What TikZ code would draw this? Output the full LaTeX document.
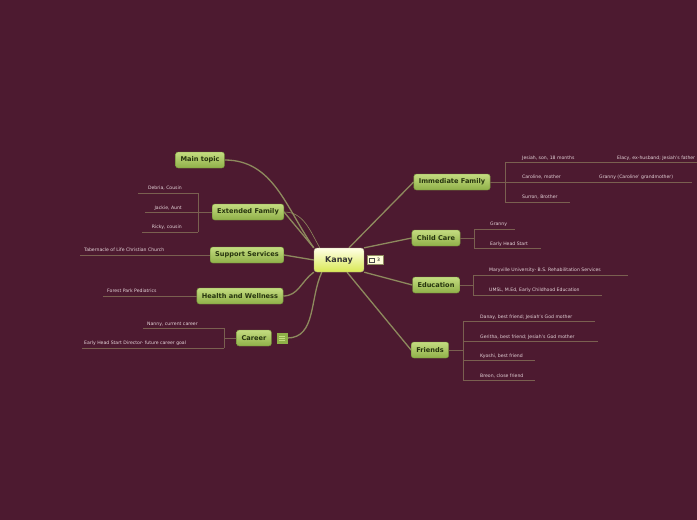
\documentclass[tikz,border=0pt]{standalone}
\usepackage{fontspec}
\setmainfont{DejaVu Sans}
\usetikzlibrary{backgrounds}
\definecolor{bg}{HTML}{4D1A30}
\definecolor{ln}{HTML}{8E8A5E}
\definecolor{leafln}{HTML}{7A6050}
\definecolor{gtop}{HTML}{C4DC80}
\definecolor{gbot}{HTML}{8FB048}
\definecolor{gtxt}{HTML}{26340E}
\definecolor{lt}{HTML}{E6D6DA}
\begin{document}
\begin{tikzpicture}[x=1pt,y=-1pt,
 topic/.style={draw=gbot!80!black,rounded corners=2.5pt,top color=gtop,bottom color=gbot,text=gtxt,font=\bfseries\fontsize{6.6}{7}\selectfont,minimum height=16pt,inner xsep=5pt},
 leaf/.style={text=lt,font=\fontsize{4.6}{5}\selectfont,inner sep=0pt},
 conn/.style={draw=ln,line width=1.3pt},
 lline/.style={draw=leafln,line width=0.6pt}]
\useasboundingbox (0,0) rectangle (697,520);
\node[draw=ln!70!white,rounded corners=3pt,top color=yellow!10!white,bottom color=yellow!35!gtop,text=black!80,font=\bfseries\fontsize{8}{9}\selectfont,minimum width=50pt,minimum height=24pt] (c) at (339,260) {Kanay};
\node[draw=ln,fill=yellow!15!white,minimum width=16pt,minimum height=9pt,inner sep=0pt,font=\fontsize{4.5}{5}\selectfont] (note) at (375,260) {\hspace{7pt}3};
\draw[black!70,line width=0.4pt] ([xshift=2pt,yshift=-2pt]note.west) rectangle ([xshift=7pt,yshift=1.5pt]note.west);
\node[topic] (mt) at (200,160) {Main topic};
\node[topic] (ef) at (248,212) {Extended Family};
\node[topic] (ss) at (247,255) {Support Services};
\node[topic] (hw) at (240,296) {Health and Wellness};
\node[topic] (ca) at (254,338) {Career};
\node[draw=gbot,fill=gbot,minimum width=10pt,minimum height=10pt,inner sep=0pt] (caicon) at (282,338) {};
\draw[gtop] (caicon.center)++(-3,-2)--++(6,0) (caicon.center)++(-3,0)--++(6,0) (caicon.center)++(-3,2)--++(6,0);
\node[topic] (im) at (452,182) {Immediate Family};
\node[topic] (cc) at (436,238) {Child Care};
\node[topic] (ed) at (436,285) {Education};
\node[topic] (fr) at (430,350) {Friends};
\begin{scope}[on background layer]
\fill[bg] (0,0) rectangle (697,520);
\draw[conn] (mt.east) to[out=0,in=125] (c.north west);
\draw[conn] (ef.east) -- (c.north west);
\draw[ln,line width=0.6pt] (ef.east) to[out=0,in=120] ([xshift=6pt]c.north west);
\draw[conn] (ss.east) -- (c.west);
\draw[conn] (hw.east) to[out=0,in=215] (c.south west);
\draw[conn] (caicon.east) to[out=0,in=245] ([xshift=8pt]c.south west);
\draw[conn] (im.west) -- ([xshift=10pt]c.north);
\draw[conn] (cc.west) -- (c.east|-c.north);
\draw[conn] (ed.west) -- (c.south east);
\draw[conn] (fr.west) -- ([xshift=8pt]c.south);
\end{scope}
% Immediate family leaves
\coordinate (i1) at (505,162); \coordinate (i2) at (505,182); \coordinate (i3) at (505,202);
\draw[lline] (im.east)--(i2) (i1)--(i3) (i1)--(697,162) (i2)--(692,182) (i3)--(570,202);
\node[leaf,anchor=base west] (l1) at (522,159) {Jesiah, son, 18 months};
\node[leaf,anchor=base west] (l1b) at (617,159) {Elacy, ex-husband; Jesiah's father};
\node[leaf,anchor=base west] (l2) at (522,178) {Caroline, mother};
\node[leaf,anchor=base west] (l2b) at (599,178) {Granny (Caroline' grandmother)};
\node[leaf,anchor=base west] (l3) at (522,198) {Surron, Brother};
% Child care
\coordinate (c1) at (474,229); \coordinate (c2) at (474,248);
\draw[lline] (cc.east)--(474,238) (c1)--(c2) (c1)--(515,229) (c2)--(541,248);
\node[leaf,anchor=base west] (l4) at (490,225) {Granny};
\node[leaf,anchor=base west] (l5) at (490,245) {Early Head Start};
% Education
\coordinate (e1) at (473,275); \coordinate (e2) at (473,295);
\draw[lline] (ed.east)--(473,285) (e1)--(e2) (e1)--(628,275) (e2)--(602,295);
\node[leaf,anchor=base west] (l6) at (489,271) {Maryville University- B.S. Rehabilitation Services};
\node[leaf,anchor=base west] (l7) at (489,291) {UMSL, M.Ed, Early Childhood Education};
% Friends
\coordinate (f1) at (463,321); \coordinate (f4) at (463,380);
\draw[lline] (fr.east)--(463,350) (f1)--(f4) (f1)--(595,321) (463,341)--(598,341) (463,360)--(535,360) (f4)--(535,380);
\node[leaf,anchor=base west] (l8) at (480,318) {Danay, best friend; Jesiah's God mother};
\node[leaf,anchor=base west] (l9) at (480,338) {Geritha, best friend; Jesiah's God mother};
\node[leaf,anchor=base west] (l10) at (480,357) {Kyoshi, best friend};
\node[leaf,anchor=base west] (l11) at (480,377) {Breon, close friend};
% Extended family
\coordinate (x1) at (198,193); \coordinate (x3) at (198,232);
\draw[lline] (ef.west)--(198,212) (x1)--(x3) (x1)--(138,193) (198,212)--(145,212) (x3)--(142,232);
\node[leaf,anchor=base east] (l12) at (182,189) {Debria, Cousin};
\node[leaf,anchor=base east] (l13) at (182,209) {Jackie, Aunt};
\node[leaf,anchor=base east] (l14) at (182,228) {Ricky, cousin};
% Support
\draw[lline] (ss.west)--(80,255);
\node[leaf,anchor=base west] (l15) at (84,251) {Tabernacle of Life Christian Church};
% Health
\draw[lline] (hw.west)--(103,296);
\node[leaf,anchor=base west] (l16) at (107,292) {Forest Park Pediatrics};
% Career
\coordinate (k1) at (224,328); \coordinate (k2) at (224,348);
\draw[lline] (ca.west)--(224,338) (k1)--(k2) (k1)--(143,328) (k2)--(82,348);
\node[leaf,anchor=base west] (l17) at (147,325) {Nanny, current career};
\node[leaf,anchor=base west] (l18) at (84,344) {Early Head Start Director- future career goal};
\end{tikzpicture}
\end{document}
